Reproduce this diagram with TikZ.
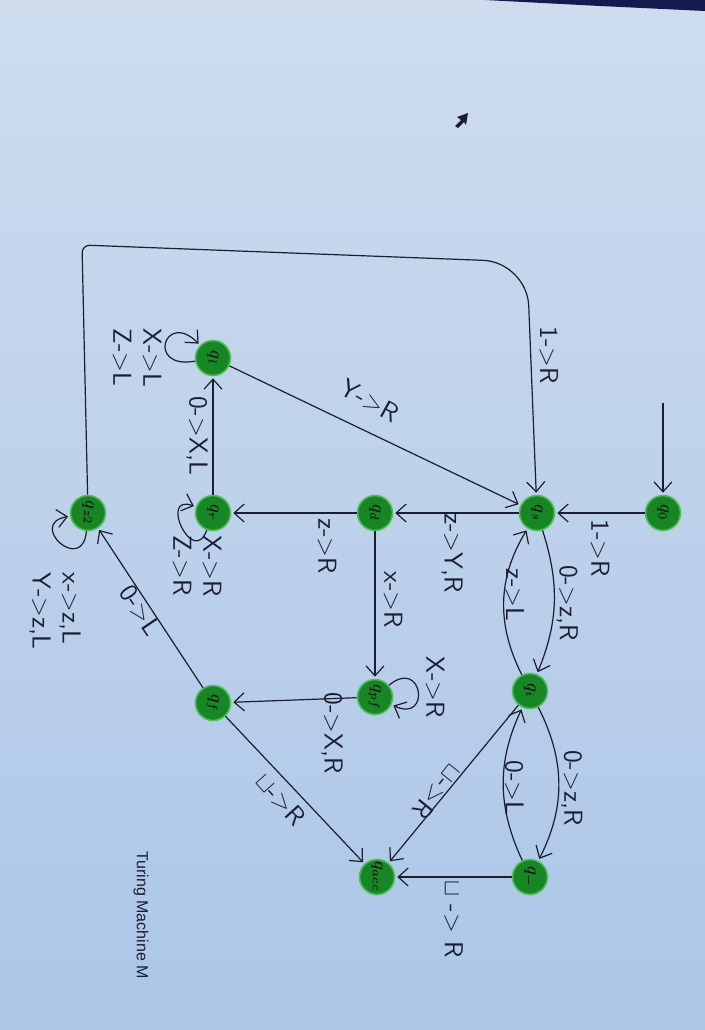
\documentclass[tikz,border=0pt]{standalone}
\usepackage{fontspec}
\usepackage{graphicx}
\newfontfamily\captionfont{Liberation Sans}
\usetikzlibrary{arrows.meta,positioning}

\definecolor{paper}{RGB}{206,220,238}
\definecolor{paperdark}{RGB}{172,198,232}
\definecolor{nodegreen}{RGB}{24,134,36}
\definecolor{rimgreen}{RGB}{80,190,90}
\definecolor{ink}{RGB}{26,30,46}

% state names are written sideways, like the rest of the photo
\newcommand{\stname}[1]{\rotatebox{-90}{$#1$}}

\begin{document}
\begin{tikzpicture}[x=0.5pt,y=0.5pt,->,>={Straight Barb[length=5pt,width=9pt]},
  shorten >=1pt,on grid,ink,line width=0.6pt,
  main node/.style={circle,fill=nodegreen,draw=rimgreen,line width=0.8pt,
  text=black,font=\small,minimum size=17.5pt,inner sep=0pt},
  rule/.style={font=\sffamily\fontsize{13}{15}\selectfont,rotate=-90,
  inner sep=1pt,text=ink,align=left},
  lab/.style 2 args={xshift=#1,yshift=#2,rule}]

  % photo of the screen
  \useasboundingbox (0,0) rectangle (705,-1030);
  \shade[top color=paper,bottom color=paperdark,draw=none] (0,0) rectangle (705,-1030);
  \fill[ink!85!blue,draw=none] (485,0) -- (705,0) -- (705,-11) -- (600,-6) -- cycle;
  \fill[ink,draw=none] (468,-113) -- (457,-117) -- (461,-120) -- (455,-126) -- (458,-128) -- (464,-122) -- (466,-125) -- cycle;

  \node[main node] (q0) at (663,-513) {\stname{q_0}};
  \node[main node] (qs) [left=63pt of q0] {\stname{q_s}};
  \node[main node] (qd) [left=81pt of qs] {\stname{q_d}};
  \node[main node] (qr) [left=81pt of qd] {\stname{q_r}};
  \node[main node] (qz2) [left=62.5pt of qr] {\stname{q_{z2}}};
  \node[main node] (ql) [above=77.5pt of qr] {\stname{q_l}};
  \node[main node] (qi) [below left=89pt and 3.5pt of qs] {\stname{q_i}};
  \node[main node] (qm) [below=93pt of qi] {\stname{q_{-}}};
  \node[main node] (qacc) [left=76.5pt of qm] {\stname{q_{acc}}};
  \node[main node] (qpf) [below=92pt of qd] {\stname{q_{pf}}};
  \node[main node] (qf) [below=95pt of qr] {\stname{q_f}};
  \node[coordinate] (start) [above=55pt of q0] {};
  \coordinate (tl) at (82,-245);
  \coordinate (tr) at (527,-262);

  % loop labels
  \node[rule] (t11) [above right=5pt and 30pt of qpf] {X->R};
  \node[rule] (t16) [below left=26.5pt and 8pt of qr] {X->R\\Z->R};
  \node[rule] (t17) [left=38pt of ql] {X->L\\Z->L};
  \node[rule] (t19) [below left=49pt and 16.5pt of qz2] {x->z,L\\Y->z,L};

  \node[rotate=-90,font=\captionfont\fontsize{8}{10}\selectfont,text=ink]
    (title) at (141,-915) {Turing Machine M};

  \draw (start) -- (q0);
  \draw[rounded corners=4pt] (qz2) -- (tl) [rounded corners=22pt] -- (tr) -- (qs)
    node[pos=.4,lab={9pt}{0pt}] (t20) {1->R};

  \path
    % top row, right to left
    (q0) edge node[lab={0pt}{-17.5pt}] (t1) {1->R} (qs)
    (qs) edge[bend left=20] node[lab={6.5pt}{0pt}] (t2) {0->z,R} (qi)
         edge node[lab={-2pt}{-20pt}] (t3) {z->Y,R} (qd)
    (qi) edge[bend left=29] node[lab={5.5pt}{3pt}] (t4) {z->L} (qs)
         edge[bend left=27] node[lab={6.5pt}{-2pt}] (t5) {0->z,R} (qm)
         edge node[lab={-8pt}{-4pt},rotate=-39] (t6) {$\sqcup$->R} (qacc)
    (qm) edge[bend left=25] node[lab={5.5pt}{-2pt}] (t7) {0->L} (qi)
         edge node[lab={0pt}{-21pt}] (t8) {$\sqcup$ -> R} (qacc)
    (qd) edge node[lab={16.5pt}{-16.5pt}] (t9) {z->R} (qr)
         edge node[lab={9pt}{2.5pt}] (t10) {x->R} (qpf)
    (qpf) edge[out=40,in=-25,min distance=22pt] (qpf)
          edge node[lab={19pt}{-16.5pt}] (t12) {0->X,R} (qf)
    (qf) edge node[lab={-7pt}{-4.5pt},rotate=42] (t13) {$\sqcup$->R} (qacc)
         edge node[lab={-5pt}{-1pt},rotate=34] (t14) {0->L} (qz2)
    % left part
    (qr) edge node[lab={-8pt}{0pt}] (t15) {0->X,L} (ql)
         edge[out=-110,in=160,min distance=20pt] (qr)
    (ql) edge[out=-170,in=135,min distance=25pt] (ql)
         edge node[lab={-2.5pt}{17.5pt},rotate=61] (t18) {Y->R} (qs)
    (qz2) edge[out=-95,in=-170,min distance=22pt] (qz2);
\end{tikzpicture}
\end{document}
